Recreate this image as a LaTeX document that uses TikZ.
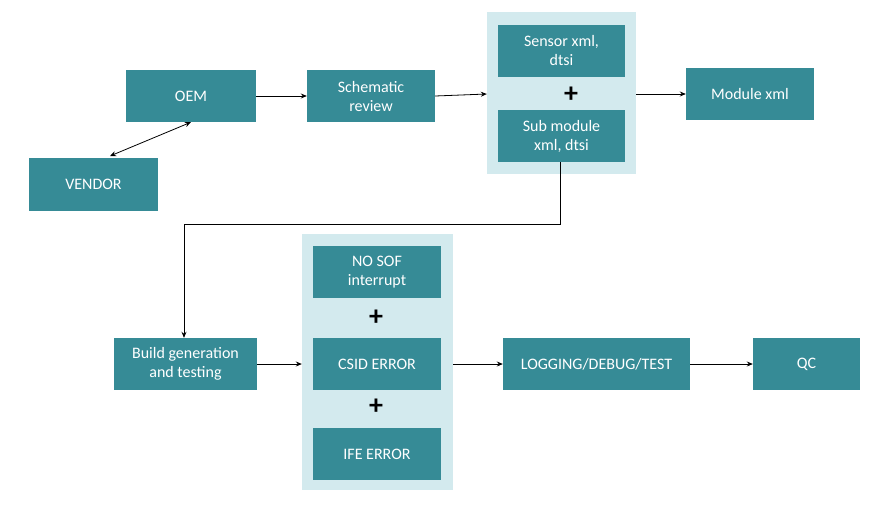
\documentclass[tikz,border=0pt]{standalone}
\usepackage{fontspec}
\setmainfont{Carlito}
\usetikzlibrary{arrows.meta}
\definecolor{teal1}{HTML}{368B96}
\definecolor{pane}{HTML}{D3EAEE}
\begin{document}
\begin{tikzpicture}[x=1pt,y=-1pt,
 bx/.style={fill=teal1,text=white,font=\fontsize{16}{19}\selectfont,align=center,inner sep=0pt},
 pn/.style={fill=pane,inner sep=0pt},
 arr/.style={-{Stealth[length=6pt,width=5pt]},line width=0.8pt},
 pl/.style={font=\fontsize{28}{28}\selectfont\bfseries,inner sep=0pt}]
\useasboundingbox (0,0) rectangle (890,504);
\node[pn,minimum width=149,minimum height=162] (p1) at (561.5,93) {};
\node[pn,minimum width=151,minimum height=256] (p2) at (377.5,362) {};
\newcommand{\bxat}[6]{\node[bx,minimum width=#4-#2,minimum height=#5-#3] (#1) at ({(#2+#4)/2},{(#3+#5)/2}) {#6};}
\bxat{oem}{126}{70}{256}{122}{OEM}
\bxat{sch}{307}{70}{435}{122}{Schematic\\review}
\bxat{sen}{498}{25}{625}{77}{Sensor xml,\\dtsi}
\bxat{sub}{498}{110}{625}{162}{Sub module\\xml, dtsi}
\bxat{mod}{686}{68}{814}{120}{Module xml}
\bxat{ven}{29}{158}{158}{211}{VENDOR}
\bxat{bld}{114}{338}{257}{390}{Build generation\\and testing}
\bxat{sof}{313}{246}{441}{298}{NO SOF\\interrupt}
\bxat{csid}{313}{338}{441}{390}{CSID ERROR}
\bxat{ife}{313}{428}{441}{480}{IFE ERROR}
\bxat{log}{503}{338}{690}{390}{LOGGING/DEBUG/TEST}
\bxat{qc}{753}{338}{860}{390}{QC}
\node[pl] (pl1) at (571,95) {+};
\node[pl] (pl2) at (376,318) {+};
\node[pl] (pl3) at (376,407) {+};
\draw[arr] (oem.east) -- (sch.west);
\draw[arr] (sch.east) -- (p1.west |- 0,94);
\draw[arr] (p1.east |- 0,94) -- (mod.west |- 0,94);
\draw[arr,{Stealth[length=6pt,width=5pt]}-{Stealth[length=6pt,width=5pt]}] (110,156) -- (oem.south);
\coordinate (c1) at (560,224);
\coordinate (c2) at (184,224);
\draw[arr] (sub.south -| c1) -- (c1) -- (c2) -- (bld.north -| c2);
\draw[arr] (bld.east) -- (p2.west |- bld.east);
\draw[arr] (p2.east |- log.west) -- (log.west);
\draw[arr] (log.east) -- (qc.west);
\end{tikzpicture}
\end{document}
